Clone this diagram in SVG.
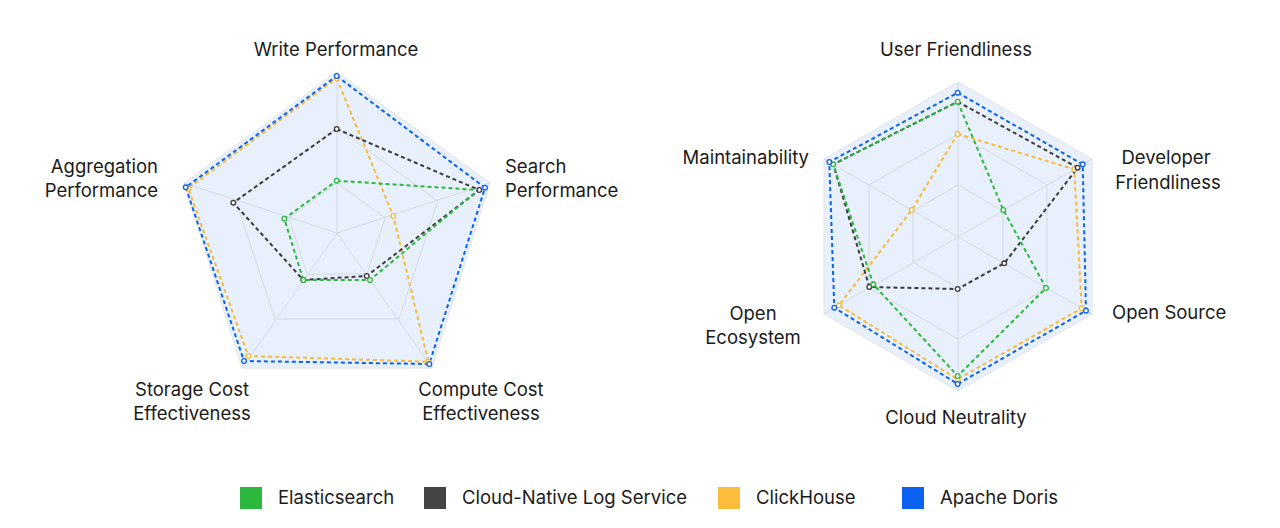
<svg xmlns="http://www.w3.org/2000/svg" width="1280" height="528" viewBox="0 0 1280 528">
<style>
text{font-family:Inter,"Noto Sans",sans-serif;font-size:18.5px;fill:#1a1a1a}
.g{fill:none;stroke:#d5d9e0;stroke-width:1}
.o{fill:#e8f0fd;stroke:#e2e4e8;stroke-width:1}
.s{fill:none;stroke-width:2;stroke-dasharray:4 3}
.d{fill:#fff;stroke-width:1.3}
.e{stroke:#2bb83c}.k{stroke:#3a3a3a}.c{stroke:#f7bb3a}.a{stroke:#0b62f0}
</style>
<g id="left-chart">
<polygon class="o" points="337,72 490,183 432,368 242,368 184,183"/>
<polygon class="g" points="337,128 438,201 399,319 275,319 236,201"/>
<polygon class="g" points="337,183 385,218 367,274 307,274 289,218"/>
<path class="g" d="M337,233L337,72M337,233L490,183M337,233L432,368M337,233L242,368M337,233L184,183"/>
</g>
<g id="right-chart">
<polygon class="o" points="958,82 1092,159 1092,314 958,391 824,314 824,159"/>
<polygon class="g" points="958,134 1047,185 1047,288 958,339 869,288 869,185"/>
<polygon class="g" points="958,185 1003,211 1003,262 958,288 913,262 913,211"/>
<path class="g" d="M958,237L958,82M958,237L1092,159M958,237L1092,314M958,237L958,391M958,237L824,314M958,237L824,159"/>
</g>
<g id="connectors">
<polygon class="s c" points="336.7,78.3 393.3,216 428.3,361.7 248.3,356 188.3,188.3"/>
<polygon class="s k" points="336.7,129 479.3,190 366.7,276 303.3,280 233.3,202.7"/>
<polygon class="s e" points="336.7,180.7 478.3,190 370,280 303.3,280 284.3,218.7"/>
<polygon class="s a" points="336.7,76 485,187.7 429.3,364 244,361 185.7,187.3"/>
<polygon class="s c" points="957.7,134 1074.3,169.3 1081.7,308.3 957.7,379.3 839,305.3 911.7,210"/>
<polygon class="s k" points="957.7,101.7 1077.7,167.7 1004.3,263.3 957.7,289 869.3,287 833.3,164.3"/>
<polygon class="s e" points="957.7,101.7 1003.3,210 1046,288 957.7,376 873.3,284.3 833.3,164.3"/>
<polygon class="s a" points="957.7,92.7 1082.7,164.3 1086,310.7 957.7,384 834.3,307.7 829.3,162"/>
</g>
<g id="markers">
<g class="d c"><circle cx="336.7" cy="78.3" r="2.3"/><circle cx="393.3" cy="216" r="2.3"/><circle cx="428.3" cy="361.7" r="2.3"/><circle cx="248.3" cy="356" r="2.3"/><circle cx="188.3" cy="188.3" r="2.3"/>
<circle cx="957.7" cy="134" r="2.3"/><circle cx="1074.3" cy="169.3" r="2.3"/><circle cx="1081.7" cy="308.3" r="2.3"/><circle cx="957.7" cy="379.3" r="2.3"/><circle cx="839" cy="305.3" r="2.3"/><circle cx="911.7" cy="210" r="2.3"/></g>
<g class="d k"><circle cx="336.7" cy="129" r="2.3"/><circle cx="479.3" cy="190" r="2.3"/><circle cx="366.7" cy="276" r="2.3"/><circle cx="303.3" cy="280" r="2.3"/><circle cx="233.3" cy="202.7" r="2.3"/>
<circle cx="1077.7" cy="167.7" r="2.3"/><circle cx="1004.3" cy="263.3" r="2.3"/><circle cx="957.7" cy="289" r="2.3"/><circle cx="869.3" cy="287" r="2.3"/></g>
<g class="d e"><circle cx="336.7" cy="180.7" r="2.3"/><circle cx="370" cy="280" r="2.3"/><circle cx="303.3" cy="280" r="2.3"/><circle cx="284.3" cy="218.7" r="2.3"/>
<circle cx="957.7" cy="101.7" r="2.3"/><circle cx="1003.3" cy="210" r="2.3"/><circle cx="1046" cy="288" r="2.3"/><circle cx="957.7" cy="376" r="2.3"/><circle cx="873.3" cy="284.3" r="2.3"/><circle cx="833.3" cy="164.3" r="2.3"/></g>
<g class="d a"><circle cx="336.7" cy="76" r="2.3"/><circle cx="485" cy="187.7" r="2.3"/><circle cx="429.3" cy="364" r="2.3"/><circle cx="244" cy="361" r="2.3"/><circle cx="185.7" cy="187.3" r="2.3"/>
<circle cx="957.7" cy="92.7" r="2.3"/><circle cx="1082.7" cy="164.3" r="2.3"/><circle cx="1086" cy="310.7" r="2.3"/><circle cx="957.7" cy="384" r="2.3"/><circle cx="834.3" cy="307.7" r="2.3"/><circle cx="829.3" cy="162" r="2.3"/></g>
</g>
<g id="labels">
<text x="336" y="56" text-anchor="middle">Write Performance</text>
<text x="505" y="173">Search</text><text x="505" y="197">Performance</text>
<text x="481" y="396" text-anchor="middle">Compute Cost</text><text x="481" y="420" text-anchor="middle">Effectiveness</text>
<text x="192" y="396" text-anchor="middle">Storage Cost</text><text x="192" y="420" text-anchor="middle">Effectiveness</text>
<text x="158" y="173" text-anchor="end">Aggregation</text><text x="158" y="197" text-anchor="end">Performance</text>
<text x="956" y="56" text-anchor="middle">User Friendliness</text>
<text x="1166" y="164" text-anchor="middle">Developer</text><text x="1168" y="189" text-anchor="middle">Friendliness</text>
<text x="1112" y="319">Open Source</text>
<text x="956" y="424" text-anchor="middle">Cloud Neutrality</text>
<text x="753" y="320" text-anchor="middle">Open</text><text x="753" y="344" text-anchor="middle">Ecosystem</text>
<text x="809" y="164" text-anchor="end">Maintainability</text>
</g>
<g id="legend">
<rect x="240" y="487" width="22" height="22" fill="#2bb83c"/><text x="278" y="504">Elasticsearch</text>
<rect x="424" y="487" width="22" height="22" fill="#444"/><text x="462" y="504">Cloud-Native Log Service</text>
<rect x="718" y="487" width="22" height="22" fill="#fbbd3b"/><text x="756" y="504">ClickHouse</text>
<rect x="902" y="487" width="22" height="22" fill="#0b62f0"/><text x="940" y="504">Apache Doris</text>
</g>
</svg>
